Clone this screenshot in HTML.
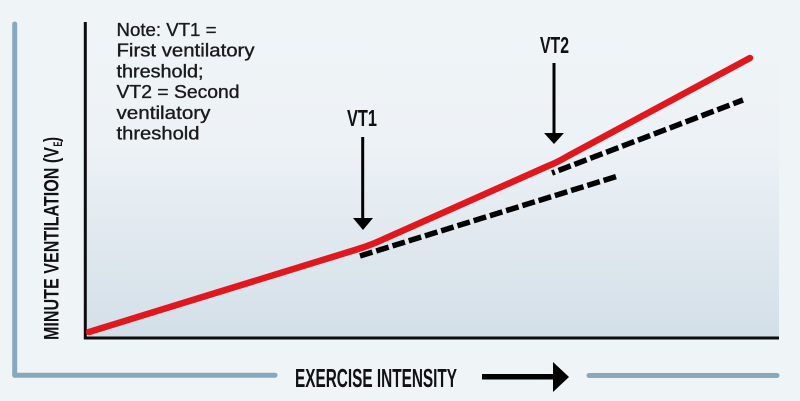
<!DOCTYPE html>
<html>
<head>
<meta charset="utf-8">
<style>
  html, body { margin: 0; padding: 0; background: #eff4f7; }
  body { width: 800px; height: 401px; overflow: hidden; }
  svg { display: block; }
</style>
</head>
<body>
<svg width="800" height="401" viewBox="0 0 800 401" xmlns="http://www.w3.org/2000/svg">
  <defs>
    <linearGradient id="plotg" x1="0" y1="22" x2="0" y2="338" gradientUnits="userSpaceOnUse">
      <stop offset="0" stop-color="#eff4f7"/>
      <stop offset="0.38" stop-color="#edf2f6"/>
      <stop offset="1" stop-color="#d3dfe8"/>
    </linearGradient>
  </defs>

  <rect x="0" y="0" width="800" height="401" fill="#eff4f7"/>

  <!-- plot area -->
  <rect x="85" y="22" width="694" height="316" fill="url(#plotg)"/>

  <!-- outer frame bars -->
  <line x1="14.7" y1="24" x2="14.7" y2="375.2" stroke="#87a8bd" stroke-width="5" stroke-linecap="round"/>
  <line x1="14.7" y1="375.2" x2="275" y2="375.2" stroke="#87a8bd" stroke-width="5" stroke-linecap="round"/>
  <line x1="589" y1="375.5" x2="777" y2="375.5" stroke="#87a8bd" stroke-width="5" stroke-linecap="round"/>

  <!-- axes -->
  <line x1="85.3" y1="22" x2="85.3" y2="339.5" stroke="#0d0d0d" stroke-width="3"/>
  <line x1="84" y1="338" x2="779" y2="338" stroke="#0d0d0d" stroke-width="3"/>

  <!-- dashed tangents -->
  <line x1="360" y1="256" x2="618" y2="176" stroke="#000" stroke-width="5.5" stroke-dasharray="13 4"/>
  <line x1="552" y1="173" x2="743" y2="100" stroke="#000" stroke-width="5.5" stroke-dasharray="13 4" stroke-dashoffset="10"/>

  <!-- red curve -->
  <path d="M89,332 L355,250 Q365,247 375,243 L548,166 Q558,162 568,156 L750,58" fill="none" stroke="#e0181e" stroke-width="6.5" stroke-linecap="round" stroke-linejoin="round"/>

  <!-- VT1 arrow -->
  <line x1="362.7" y1="137" x2="362.7" y2="220" stroke="#000" stroke-width="3"/>
  <polygon points="353,218 373,218 363,230" fill="#000"/>
  <text x="347" y="126" font-family="'Liberation Sans Narrow','Liberation Sans',sans-serif" font-weight="bold" font-size="23" textLength="30" lengthAdjust="spacingAndGlyphs" fill="#111">VT1</text>

  <!-- VT2 arrow -->
  <line x1="554" y1="63" x2="554" y2="135" stroke="#000" stroke-width="3"/>
  <polygon points="544,133 564,133 554,144" fill="#000"/>
  <text x="540" y="53" font-family="'Liberation Sans Narrow','Liberation Sans',sans-serif" font-weight="bold" font-size="23" textLength="29" lengthAdjust="spacingAndGlyphs" fill="#111">VT2</text>

  <!-- note -->
  <g font-family="'Liberation Sans',sans-serif" font-size="18" fill="#1a1a1a" stroke="#1a1a1a" stroke-width="0.35">
    <text x="116.5" y="36" textLength="100" lengthAdjust="spacingAndGlyphs">Note: VT1 =</text>
    <text x="116.5" y="56.7" textLength="138" lengthAdjust="spacingAndGlyphs">First ventilatory</text>
    <text x="116.5" y="77.4" textLength="87" lengthAdjust="spacingAndGlyphs">threshold;</text>
    <text x="116.5" y="98.1" textLength="123" lengthAdjust="spacingAndGlyphs">VT2 = Second</text>
    <text x="116.5" y="118.8" textLength="94" lengthAdjust="spacingAndGlyphs">ventilatory</text>
    <text x="116.5" y="139.5" textLength="83" lengthAdjust="spacingAndGlyphs">threshold</text>
  </g>

  <!-- x label -->
  <text x="295" y="387" font-family="'Liberation Sans Narrow','Liberation Sans',sans-serif" font-weight="bold" font-size="26" textLength="162" lengthAdjust="spacingAndGlyphs" fill="#111">EXERCISE INTENSITY</text>
  <line x1="482" y1="376.7" x2="556" y2="376.7" stroke="#000" stroke-width="5.5"/>
  <polygon points="553,362 569,377 553,392" fill="#000"/>

  <!-- y label -->
  <g transform="translate(58.5,340) rotate(-90)" font-family="'Liberation Sans Narrow','Liberation Sans',sans-serif" font-weight="bold" fill="#111">
    <text x="0" y="0" font-size="21.5" textLength="193" lengthAdjust="spacingAndGlyphs">MINUTE VENTILATION (V</text>
    <text x="193.5" y="3.5" font-size="12" textLength="5" lengthAdjust="spacingAndGlyphs">E</text>
    <text x="198" y="0" font-size="21.5" textLength="5" lengthAdjust="spacingAndGlyphs">)</text>
  </g>
</svg>
</body>
</html>
